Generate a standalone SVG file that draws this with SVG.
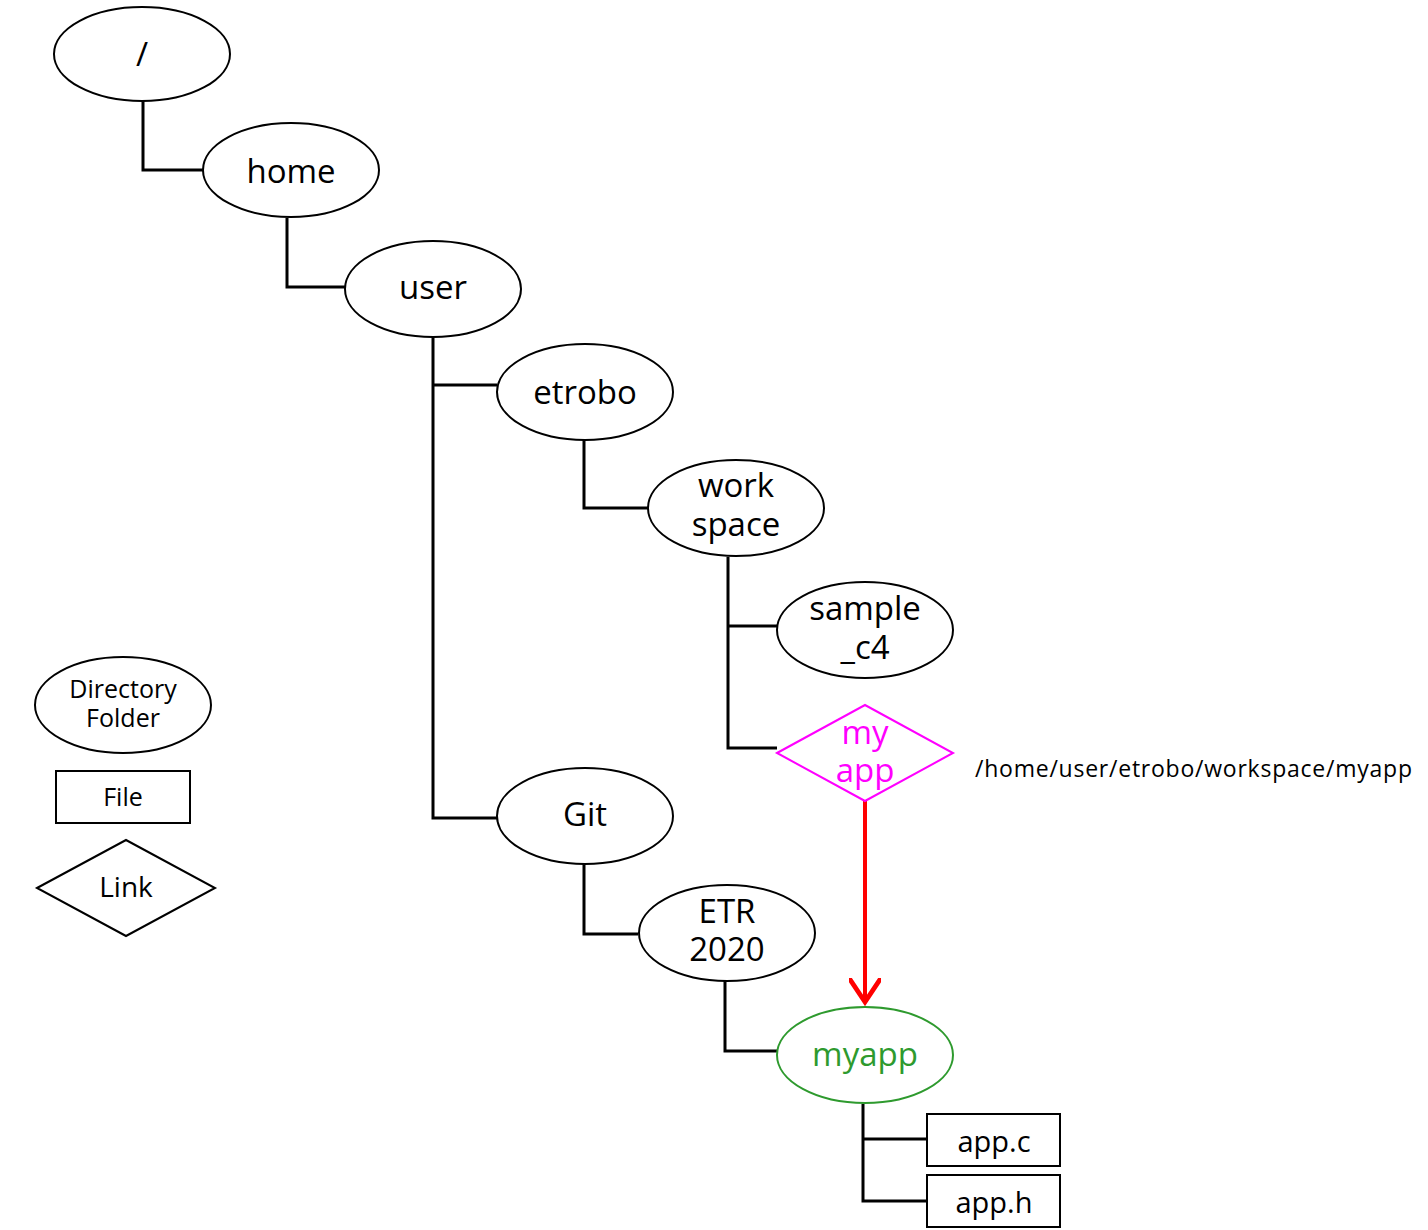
<svg xmlns="http://www.w3.org/2000/svg" width="1428" height="1230" viewBox="0 0 1428 1230">
<style>
.n{fill:#fff;stroke:#000;stroke-width:2}
text{font-family:"Open Sans","Liberation Sans",sans-serif;text-anchor:middle;font-size:33px;fill:#000}
.s{font-size:25px}
#conn path{fill:none;stroke:#000;stroke-width:3}
</style>
<defs><marker id="ah" markerWidth="8" markerHeight="8" refX="6" refY="4" orient="auto" markerUnits="strokeWidth"><path d="M0,0 L6,4 L0,8" fill="none" stroke="#f00" stroke-width="1.2"/></marker></defs>
<g id="conn">
<path d="M143,101V170H203"/>
<path d="M287,218V287H345"/>
<path d="M433,338V818H497M433,385H497"/>
<path d="M584,440V508H648"/>
<path d="M728,557V748H777M728,626H777"/>
<path d="M584,864V934H638"/>
<path d="M725,981V1051H777"/>
<path d="M863,1104V1201H927M863,1139H927"/>
<path d="M865,801V1002" style="stroke:#f00;stroke-width:4" marker-end="url(#ah)"/>
</g>
<g id="root"><ellipse class="n" cx="142" cy="54" rx="88" ry="47"/><text x="142" y="66">/</text></g>
<g id="home"><ellipse class="n" cx="291" cy="170" rx="88" ry="47"/><text x="291" y="183">home</text></g>
<g id="user"><ellipse class="n" cx="433" cy="289" rx="88" ry="48"/><text x="433" y="299">user</text></g>
<g id="etrobo"><ellipse class="n" cx="585" cy="392" rx="88" ry="48"/><text x="585" y="404">etrobo</text></g>
<g id="workspace"><ellipse class="n" cx="736" cy="508" rx="88" ry="48"/><text x="736" y="497">work</text><text x="736" y="536">space</text></g>
<g id="sample"><ellipse class="n" cx="865" cy="630" rx="88" ry="48"/><text x="865" y="620">sample</text><text x="865" y="659">_c4</text></g>
<g id="mylink"><polygon points="777,753 865,705 953,753 865,801" fill="#fff" stroke="#f0f" stroke-width="2"/><text x="865" y="744" style="fill:#f0f">my</text><text x="865" y="782" style="fill:#f0f">app</text></g>
<g id="path"><text x="975" y="777" textLength="437" style="font-size:23px;text-anchor:start">/home/user/etrobo/workspace/myapp</text></g>
<g id="git"><ellipse class="n" cx="585" cy="816" rx="88" ry="48"/><text x="585" y="826">Git</text></g>
<g id="etr"><ellipse class="n" cx="727" cy="933" rx="88" ry="48"/><text x="727" y="923">ETR</text><text x="727" y="961">2020</text></g>
<g id="myapp"><ellipse cx="865" cy="1055" rx="88" ry="48" fill="#fff" stroke="#2e9a2e" stroke-width="2"/><text x="865" y="1066" style="fill:#2e9a2e">myapp</text></g>
<g id="appc"><rect class="n" x="927" y="1114" width="133" height="52"/><text x="994" y="1152" style="font-size:29px">app.c</text></g>
<g id="apph"><rect class="n" x="927" y="1175" width="133" height="52"/><text x="994" y="1213" style="font-size:29px">app.h</text></g>
<g id="lg-dir"><ellipse class="n" cx="123" cy="705" rx="88" ry="48"/><text class="s" x="123" y="698">Directory</text><text class="s" x="123" y="727">Folder</text></g>
<g id="lg-file"><rect class="n" x="56" y="771" width="134" height="52"/><text class="s" x="123" y="806">File</text></g>
<g id="lg-link"><polygon class="n" points="37,888 126,840 215,888 126,936"/><text x="126" y="897" style="font-size:28px">Link</text></g>
</svg>
